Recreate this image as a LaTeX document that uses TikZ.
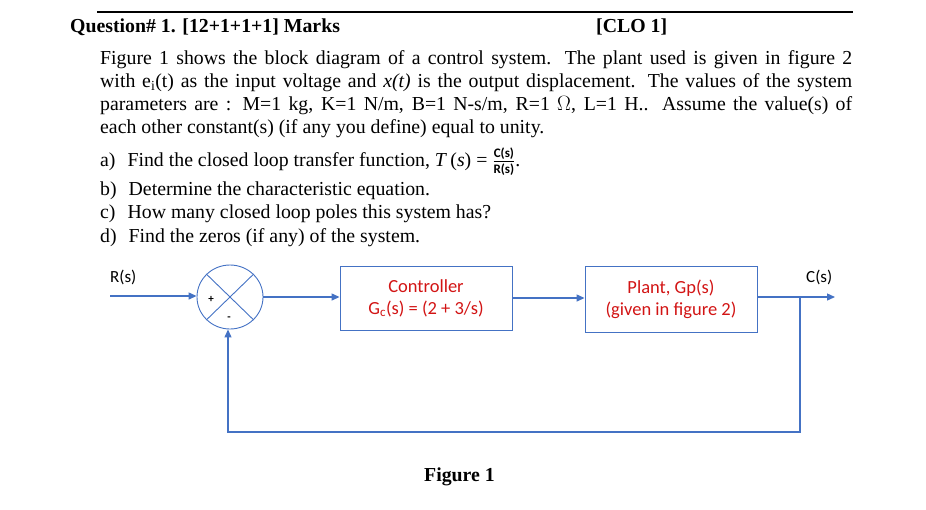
\documentclass[tikz,border=0pt]{standalone}
\usepackage{fontspec}
\usetikzlibrary{arrows.meta,shapes.geometric}
\setmainfont{Liberation Serif}
\newfontfamily\calfnt{Carlito}
\definecolor{lblue}{RGB}{68,114,196}
\definecolor{lred}{RGB}{210,20,20}
\newcommand{\jline}[1]{\makebox[752pt][s]{#1}}
\newcommand{\cfr}[1]{\hbox{\calfnt\bfseries\fontsize{13}{14}\selectfont #1}}
\begin{document}
\begin{tikzpicture}[x=1pt,y=-1pt,
  txt/.style={anchor=base west,inner sep=0pt,font=\fontsize{19.8}{23}\selectfont},
  blk/.style={draw=lblue,line width=0.9pt,minimum width=172pt,minimum height=64pt,font=\calfnt\fontsize{18.5}{22}\selectfont,text=lred,align=center},
  ln/.style={draw=lblue,line width=1.3pt},
  ar/.style={ln,-{Triangle[length=8pt,width=7pt]}},
  lab/.style={font=\calfnt\fontsize{17}{20}\selectfont,inner sep=0pt}]
\useasboundingbox (0,0) rectangle (926,509);
\draw[line width=2.2pt] (97,12) -- (853,12);
\node[txt,font=\bfseries\fontsize{19.8}{23}\selectfont] (q) at (70,32) {Question\# 1. [12+1+1+1] Marks};
\node[txt,font=\bfseries\fontsize{19.8}{23}\selectfont] (clo) at (596,32) {[CLO 1]};
\node[txt] (l1) at (100,64) {\jline{Figure 1 shows the block diagram of a control system. The plant used is given in figure 2}};
\node[txt] (l2) at (100,87) {\jline{with e\textsubscript{i}(t) as the input voltage and \textit{x(t)} is the output displacement. The values of the system}};
\node[txt] (l3) at (100,110) {\jline{parameters are : M=1 kg, K=1 N/m, B=1 N-s/m, R=1 $\Omega$, L=1 H.. Assume the value(s) of}};
\node[txt] (l4) at (100,133) {each other constant(s) (if any you define) equal to unity.};
\node[txt] (a) at (100,166) {a)\hspace{12pt}Find the closed loop transfer function, \textit{T}\,(\textit{s}) = $\frac{\cfr{C(s)}}{\cfr{R(s)}}$.};
\node[txt] (b) at (100,195) {b)\hspace{12pt}Determine the characteristic equation.};
\node[txt] (c) at (100,218) {c)\hspace{12pt}How many closed loop poles this system has?};
\node[txt] (d) at (100,242) {d)\hspace{12pt}Find the zeros (if any) of the system.};
% diagram
\node[lab,anchor=base west] (rs) at (110,282) {R(s)};
\node[lab,anchor=base west] (cs) at (806,282) {C(s)};
\coordinate (in) at (110,296);
\node[draw=lblue,line width=0.9pt,ellipse,minimum width=66pt,minimum height=64pt,inner sep=0pt] (sum) at (230,297) {};
\draw[lblue,line width=0.9pt] (sum.north west) -- (sum.south east) (sum.north east) -- (sum.south west);
\node[font=\calfnt\bfseries\fontsize{11}{12}\selectfont,inner sep=0pt] (plus) at (211,299) {+};
\node[font=\calfnt\bfseries\fontsize{11}{12}\selectfont,inner sep=0pt] (minus) at (229,319) {-};
\node[blk] (ctl) at (426,298) {Controller\\G\textsubscript{c}(s) = (2 + 3/s)};
\node[blk,minimum height=66pt] (pl) at (671,299) {Plant, Gp(s)\\(given in figure 2)};
\coordinate (out) at (835,297);
\coordinate (br) at (800,297);
\coordinate (c1) at (800,432);
\coordinate (c2) at (228,432);
\draw[ar] (in) -- (sum.west|-in);
\draw[ar] (sum.east) -- (ctl.west|-sum.east);
\draw[ar] (ctl.east) -- (pl.west|-ctl.east);
\draw[ar] (pl.east|-out) -- (out);
\draw[ar] (br) -- (c1) -- (c2) -- (c2|-sum.south);
\node[txt,font=\bfseries\fontsize{19.8}{23}\selectfont] (fig) at (424,481) {Figure 1};
\end{tikzpicture}
\end{document}
